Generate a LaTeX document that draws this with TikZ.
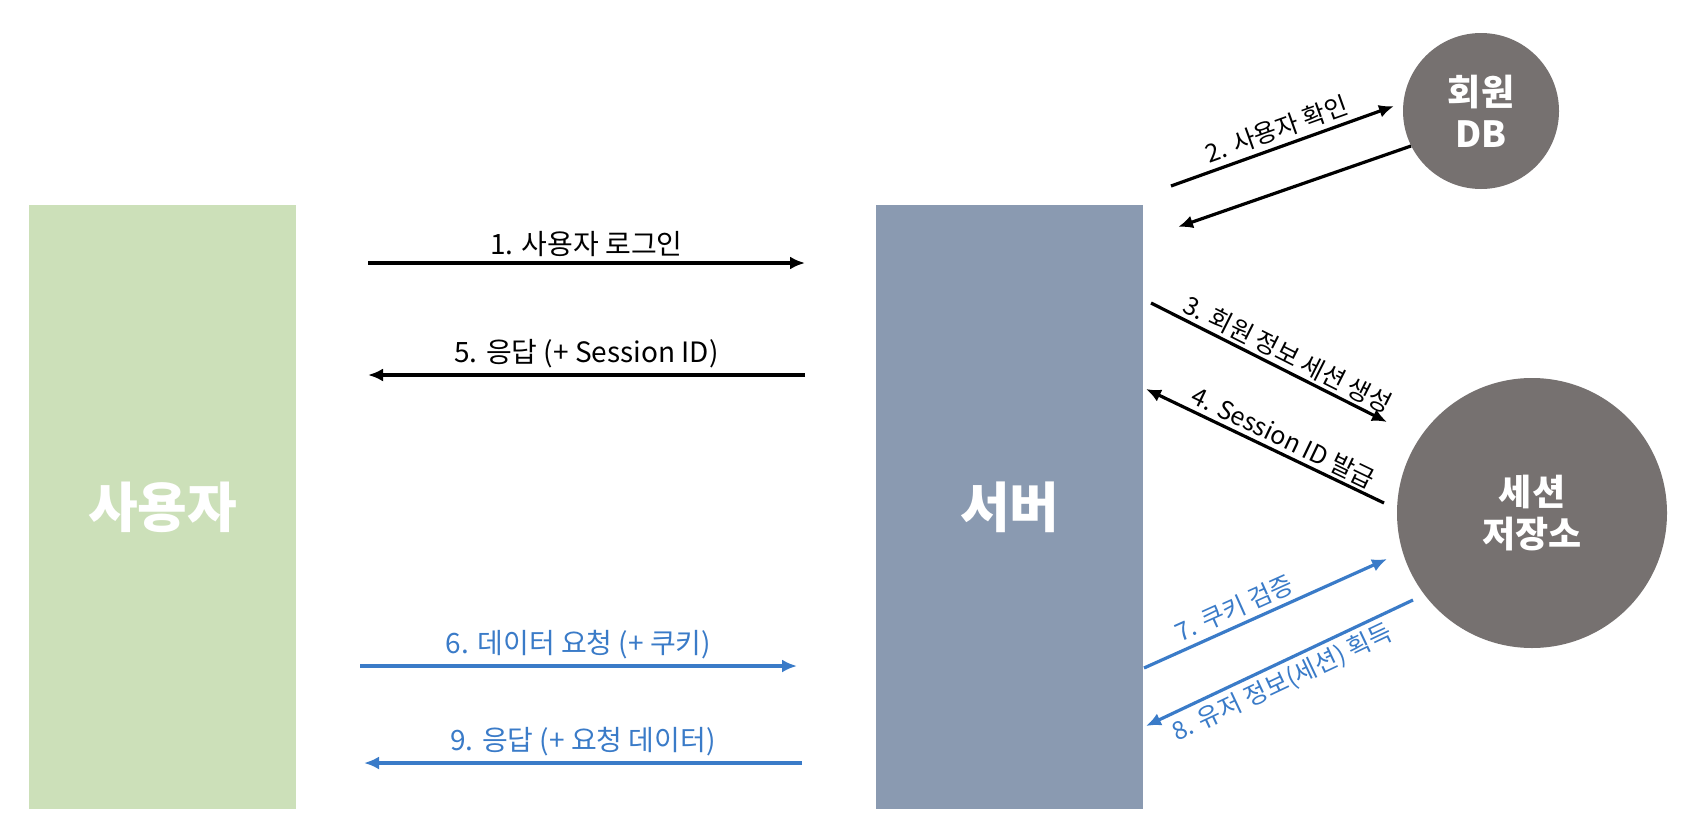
\documentclass[tikz,border=0pt]{standalone}
\usepackage{fontspec}
\setmainfont{Noto Sans CJK KR}
\usetikzlibrary{arrows.meta}
\definecolor{ugreen}{HTML}{CCE0B9}
\definecolor{sblue}{HTML}{8A9AB1}
\definecolor{cgray}{HTML}{767170}
\definecolor{ablue}{HTML}{3A7BC8}
\tikzset{
  box/.style={fill=#1,draw=none,anchor=north west,inner sep=0pt},
  circ/.style={circle,fill=cgray,draw=none,text=white,font=\fontsize{36}{42}\selectfont\bfseries,align=center,inner sep=0pt},
  big/.style={text=white,font=\fontsize{54}{60}\selectfont\bfseries},
  arr/.style={line width=3.2pt,-{Latex[length=15pt,width=13pt]}},
  blk/.style={arr,black},
  blu/.style={arr,ablue},
  lab/.style={font=\fontsize{28}{32}\selectfont,inner sep=5pt},
  slab/.style={font=\fontsize{25}{28}\selectfont,inner sep=3pt},
}
\begin{document}
\begin{tikzpicture}[x=1pt,y=-1pt]
\useasboundingbox (0,0) rectangle (1692,838);
\fill[white] (0,0) rectangle (1692,838);
\node[box=ugreen,minimum width=267pt,minimum height=604pt] (user) at (29,205) {};
\node[box=sblue,minimum width=267pt,minimum height=604pt] (server) at (876,205) {};
\node[big] at (user.center) {사용자};
\node[big] at (server.center) {서버};
\node[circ,minimum size=156pt] (db) at (1481,111) {회원\\DB};
\node[circ,minimum size=270pt] (store) at (1532,513) {세션\\저장소};
\coordinate (a1s) at (368,263); \coordinate (a1e) at (805,263);
\coordinate (a5s) at (805,375); \coordinate (a5e) at (368,375);
\coordinate (a6s) at (360,666); \coordinate (a6e) at (797,666);
\coordinate (a9s) at (802,763); \coordinate (a9e) at (364,763);
\coordinate (a2s) at (1171,186); \coordinate (a2e) at (1394,106);
\coordinate (abs) at (1411,146); \coordinate (abe) at (1178,227);
\coordinate (a3s) at (1151,303); \coordinate (a3e) at (1387,422);
\coordinate (a4s) at (1384,503); \coordinate (a4e) at (1146,389);
\coordinate (a7s) at (1144,668); \coordinate (a7e) at (1387,559);
\coordinate (a8s) at (1413,600); \coordinate (a8e) at (1146,726);
\draw[blk] (a1s) -- node[lab,above]{1. 사용자 로그인} (a1e);
\draw[blk] (a5s) -- node[lab,above]{5. 응답 (+ Session ID)} (a5e);
\draw[blu] (a6s) -- node[lab,above,text=ablue]{6. 데이터 요청 (+ 쿠키)} (a6e);
\draw[blu] (a9s) -- node[lab,above,text=ablue]{9. 응답 (+ 요청 데이터)} (a9e);
\draw[blk] (a2s) -- node[slab,above,sloped,inner sep=5pt]{2. 사용자 확인} (a2e);
\draw[blk] (abs) -- (abe);
\draw[blk] (a3s) -- node[slab,above,sloped,pos=0.55]{3. 회원 정보 세션 생성} (a3e);
\draw[blk] (a4s) -- node[slab,above,sloped,pos=0.45]{4. Session ID 발급} (a4e);
\draw[blu] (a7s) -- node[slab,above,sloped,text=ablue,pos=0.4,inner sep=5pt]{7. 쿠키 검증} (a7e);
\draw[blu] (a8s) -- node[slab,below,sloped,text=ablue,pos=0.52,inner sep=5pt]{8. 유저 정보(세션) 획득} (a8e);
\end{tikzpicture}
\end{document}
